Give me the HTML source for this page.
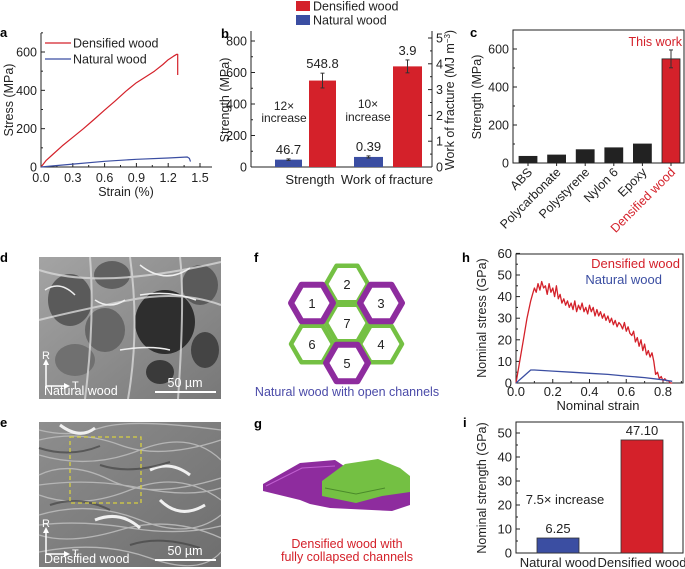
<!DOCTYPE html>
<html><head><meta charset="utf-8"><style>
html,body{margin:0;padding:0;background:#fff;}
svg{display:block;font-family:"Liberation Sans",sans-serif;}
</style></head><body>
<svg id="fig" width="685" height="569" viewBox="0 0 685 569" xmlns="http://www.w3.org/2000/svg">
<defs>
<linearGradient id="gd" x1="0" y1="0" x2="1" y2="1"><stop offset="0" stop-color="#a4a4a4"/><stop offset="1" stop-color="#787878"/></linearGradient>
<linearGradient id="ge" x1="0" y1="0" x2="1" y2="1"><stop offset="0" stop-color="#8e8e8e"/><stop offset="1" stop-color="#6e6e6e"/></linearGradient>
</defs>
<g>
<rect x="39" y="257" width="182" height="142" fill="url(#gd)"/>
<ellipse cx="70" cy="300" rx="22" ry="26" fill="#5a5a5a"/>
<ellipse cx="112" cy="275" rx="18" ry="14" fill="#606060"/>
<ellipse cx="165" cy="322" rx="30" ry="32" fill="#2e2e2e"/>
<ellipse cx="200" cy="285" rx="18" ry="20" fill="#5a5a5a"/>
<ellipse cx="105" cy="330" rx="20" ry="22" fill="#666"/>
<ellipse cx="160" cy="372" rx="14" ry="12" fill="#3a3a3a"/>
<ellipse cx="205" cy="350" rx="14" ry="18" fill="#444"/>
<ellipse cx="75" cy="360" rx="20" ry="16" fill="#707070"/>
<path d="M39 320 Q80 310 130 300 T221 305 M90 257 Q95 320 85 399 M130 257 Q140 330 128 399 M180 257 Q185 300 178 399 M39 270 Q100 290 221 262" stroke="#d8d8d8" stroke-width="2" fill="none" opacity="0.8"/>
<path d="M140 265 Q165 285 190 268 M140 295 Q170 290 196 300 M120 350 Q150 345 170 350 M45 290 Q60 280 75 295 M95 300 Q110 310 125 300" stroke="#eee" stroke-width="1.5" fill="none"/>
</g>
<g>
<rect x="39" y="422" width="182" height="145" fill="url(#ge)"/>
<path d="M39 440 Q80 430 120 445 T221 440 M39 455 Q90 470 140 450 T221 460 M39 475 Q70 460 110 480 T221 478 M39 495 Q80 510 130 490 T221 500 M39 515 Q90 500 140 520 T221 515 M39 535 Q70 545 120 530 T221 538 M39 552 Q100 540 150 558 T221 552 M39 430 Q70 438 100 428 T221 430 M39 485 Q90 478 140 488 T221 488 M39 525 Q80 520 130 528 T221 526" stroke="#b5b5b5" stroke-width="1.3" fill="none"/>
<path d="M60 425 Q80 440 95 428 M150 470 Q170 460 190 475 M95 520 Q120 510 140 528 M160 500 Q180 520 205 505" stroke="#f0f0f0" stroke-width="3" fill="none"/>
<path d="M39 448 Q70 458 100 446 M100 465 Q130 475 170 462 M50 505 Q80 495 110 510 M130 545 Q160 535 200 548" stroke="#444" stroke-width="2" fill="none" opacity="0.7"/>
<rect x="70" y="437" width="71" height="66" fill="none" stroke="#d8d040" stroke-width="1.3" stroke-dasharray="4,3"/>
</g>
<g id="f-struct"></g>
<g>
<path d="M263 484 L300 463 L335 460 L350 470 L370 476 L410 480 L410 505 L392 511 L330 508 L310 504 L300 500 L263 491 Z" fill="#8e2c9e"/>
<path d="M266 486 L302 468 L335 466" stroke="#c060d0" stroke-width="1" fill="none"/>
<path d="M322 481 L345 464 L378 459 L400 468 L410 476 L410 492 L382 496 L356 503 L322 496 Z" fill="#74c043"/>
<path d="M325 488 L356 494 L385 488" stroke="#4a8a2a" stroke-width="1" fill="none"/>
</g>
</svg>
<script>
const svgNS='http://www.w3.org/2000/svg';
const fig=document.getElementById('fig');
const RED='#d4212a', BLUE='#3b4ea2';

const aRedStrain=[0,0.05,0.1,0.2,0.3,0.4,0.5,0.6,0.7,0.8,0.9,1.0,1.07,1.15,1.2,1.25,1.28,1.29,1.29];
const aRedStress=[0,35,60,110,155,200,248,297,345,395,440,475,500,535,560,578,588,588,480];
const aBlueStrain=[0,0.1,0.3,0.6,0.9,1.2,1.38,1.4,1.41];
const aBlueStress=[0,5,15,30,40,47,52,45,28];
const aXTicks=['0.0','0.3','0.6','0.9','1.2','1.5'];
const aYTicks=['0','200','400','600'];

const bCategories=['Strength','Work of fracture'];
const bNatural=[46.7,0.39];
const bDensified=[548.8,3.9];
const bNaturalErr=[5,0.04];
const bDensifiedErr=[47,0.25];
const bValueLabels=['46.7','548.8','0.39','3.9'];
const bYTicks=['0','200','400','600','800'];
const bY2Ticks=['0','1','2','3','4','5'];

const cCategories=['ABS','Polycarbonate','Polystyrene','Nylon 6','Epoxy','Densified wood'];
const cValues=[35,42,70,80,100,548];
const cErr=[0,0,0,0,0,47];
const cYTicks=['0','200','400','600'];

const hRedStrain=[0,0.02,0.04,0.06,0.08,0.09,0.10,0.11,0.12,0.13,0.14,0.15,0.16,0.17,0.18,0.19,0.20,0.21,0.22,0.23,0.24,0.25,0.26,0.27,0.28,0.29,0.30,0.31,0.32,0.33,0.34,0.35,0.36,0.37,0.38,0.39,0.40,0.41,0.42,0.43,0.44,0.45,0.46,0.47,0.48,0.49,0.50,0.51,0.52,0.53,0.54,0.55,0.56,0.57,0.58,0.59,0.60,0.61,0.62,0.63,0.64,0.65,0.66,0.67,0.68,0.69,0.70,0.71,0.72,0.73,0.74,0.75,0.76,0.77,0.78,0.79,0.80,0.81,0.82,0.83,0.84,0.85];
const hRedStress=[0,10,20,30,38,41,44,42,46,43,47,44,45,41,46,42,44,40,45,39,41,37,39,36,38,35,37,34,38,33,36,34,37,33,35,32,36,33,35,31,34,31,33,30,32,29,31,28,30,27,29,26,28,27,25,28,24,26,23,22,24,19,21,17,20,15,18,13,15,12,14,10,4,5,2,3,1,2,1,1,0,0];
const hBlueStrain=[0,0.04,0.08,0.1,0.2,0.3,0.4,0.5,0.6,0.7,0.8,0.85];
const hBlueStress=[0,3,6,6,5.5,5,4.5,4,3.2,2.5,1.5,0.8];
const hXTicks=['0.0','0.2','0.4','0.6','0.8'];
const hYTicks=['0','10','20','30','40','50','60'];

const iCategories=['Natural wood','Densified wood'];
const iValues=[6.25,47.10];
const iValueLabels=['6.25','47.10'];
const iYTicks=['0','10','20','30','40','50'];

function mk(tag,attrs,parent){const e=document.createElementNS(svgNS,tag);for(const k in attrs)e.setAttribute(k,attrs[k]);(parent||fig).appendChild(e);return e;}
function nm(e,name,inter){
  
  
  return e;}
function T(x,y,s,o){o=o||{};const e=mk('text',{x:x,y:y,'font-size':o.fs||12.5,fill:o.fill||'#222','text-anchor':o.a||'middle','font-weight':o.w||'normal'});if(o.rot!==undefined)e.setAttribute('transform','rotate('+o.rot+' '+x+' '+y+')');e.textContent=s;return e;}
function L(x1,y1,x2,y2,c,w){return mk('line',{x1:x1,y1:y1,x2:x2,y2:y2,stroke:c||'#222','stroke-width':w||1});}
function lin(d0,d1,r0,r1){return v=>r0+(v-d0)*(r1-r0)/(d1-d0);}
function poly(xs,ys,sx,sy,c,w){return mk('polyline',{points:xs.map((v,i)=>sx(v).toFixed(1)+','+sy(ys[i]).toFixed(1)).join(' '),fill:'none',stroke:c,'stroke-width':w||1.2,'stroke-linejoin':'round'});}

[['a',0,37],['b',221,38],['c',470,37],['d',0,262],['e',0,427],['f',254,262],['g',254,428],['h',462,262],['i',463,427]].forEach(p=>{nm(T(p[1],p[2],p[0],{a:'start',w:'bold',fs:13,fill:'#000'}),'panel-label-'+p[0]);});

{const sx=lin(0,1.5,41,200), sy=lin(0,600,167,52);
nm(L(41,33,41,167.5),'a-y-axis');nm(L(41,167,212,167),'a-x-axis');
aXTicks.forEach((t,i)=>{const v=parseFloat(t);nm(L(sx(v),167,sx(v),163),'a-x-tick');nm(T(sx(v),182,t),'a-x-tick-label');if(i<5)nm(L(sx(v+0.15),167,sx(v+0.15),165),'a-x-minor-tick');});
aYTicks.forEach(t=>{const v=+t;nm(L(41,sy(v),45,sy(v)),'a-y-tick');nm(T(37,sy(v)+4.5,t,{a:'end'}),'a-y-tick-label');nm(L(41,sy(v+100),43,sy(v+100)),'a-y-minor-tick');});
nm(T(126,196,'Strain (%)'),'a-x-axis-title');
nm(T(13,100,'Stress (MPa)',{rot:-90}),'a-y-axis-title');
nm(poly(aRedStrain,aRedStress,sx,sy,RED,1.2),'a-densified-wood-line');
nm(poly(aBlueStrain,aBlueStress,sx,sy,BLUE,1.2),'a-natural-wood-line');
nm(L(45,43,71,43,RED,1.2),'a-legend-swatch-densified');nm(T(73,47.5,'Densified wood',{a:'start',fs:12.5}),'a-legend-label-densified');
nm(L(45,59,71,59,BLUE,1.2),'a-legend-swatch-natural');nm(T(73,63.5,'Natural wood',{a:'start',fs:12.5}),'a-legend-label-natural');}

{const sy=lin(0,800,167,41), sy2=lin(0,5,167,38);
nm(L(251,31,251,167),'b-y-axis');nm(L(251,167,432,167),'b-x-axis');nm(L(432,31,432,167),'b-y2-axis');
bYTicks.forEach(t=>{const v=+t;nm(L(251,sy(v),255,sy(v)),'b-y-tick');nm(T(247,sy(v)+4.5,t,{a:'end'}),'b-y-tick-label');if(v<800)nm(L(251,sy(v+100),253,sy(v+100)),'b-y-minor-tick');});
bY2Ticks.forEach(t=>{const v=+t;nm(L(428,sy2(v),432,sy2(v)),'b-y2-tick');nm(T(436,sy2(v)+4.5,t,{a:'start'}),'b-y2-tick-label');if(v<5)nm(L(430,sy2(v+0.5),432,sy2(v+0.5)),'b-y2-minor-tick');});
nm(T(229,100,'Strength (MPa)',{rot:-90}),'b-y-axis-title');
const wt=T(454,100,'Work of fracture (MJ m',{rot:-90});const sup=mk('tspan',{dy:-4,'font-size':8},wt);sup.textContent='−3';const cl=mk('tspan',{dy:4},wt);cl.textContent=')';nm(wt,'b-y2-axis-title');
const groups=[{x0:275,s:sy},{x0:354,s:sy2}];
bCategories.forEach((c,i)=>{const g=groups[i];const bw=i?29:27;const gap=i?39:34;
 nm(mk('rect',{x:g.x0,y:g.s(bNatural[i]),width:bw,height:167-g.s(bNatural[i]),fill:BLUE}),'b-bar-natural-'+i);
 nm(mk('rect',{x:g.x0+gap,y:g.s(bDensified[i]),width:bw,height:167-g.s(bDensified[i]),fill:RED}),'b-bar-densified-'+i);
 [[g.x0+bw/2,bNatural[i],bNaturalErr[i]],[g.x0+gap+bw/2,bDensified[i],bDensifiedErr[i]]].forEach(e=>{nm(L(e[0],g.s(e[1]+e[2]),e[0],g.s(e[1]-e[2]),'#333',1),'b-error-bar');nm(L(e[0]-2,g.s(e[1]+e[2]),e[0]+2,g.s(e[1]+e[2]),'#333',1),'b-error-cap');nm(L(e[0]-2,g.s(e[1]-e[2]),e[0]+2,g.s(e[1]-e[2]),'#333',1),'b-error-cap');});
 nm(T(g.x0+bw/2,g.s(bNatural[i]+bNaturalErr[i])-5,bValueLabels[i*2],{fs:13}),'b-value-label');
 nm(T(g.x0+gap+bw/2,g.s(bDensified[i]+bDensifiedErr[i])-5,bValueLabels[i*2+1],{fs:13}),'b-value-label');
 nm(T(i?387:310,184,c,{fs:13}),'b-category-label');});
nm(T(284,110,'12×',{fs:12}),'b-annotation');nm(T(284,122,'increase',{fs:12}),'b-annotation');
nm(T(368,108,'10×',{fs:12}),'b-annotation');nm(T(368,121,'increase',{fs:12}),'b-annotation');
nm(mk('rect',{x:296,y:1,width:14,height:10,fill:RED}),'b-legend-swatch-densified');nm(T(313,10.5,'Densified wood',{a:'start',fs:12.5}),'b-legend-label-densified');
nm(mk('rect',{x:296,y:15,width:14,height:10,fill:BLUE}),'b-legend-swatch-natural');nm(T(313,24.5,'Natural wood',{a:'start',fs:12.5}),'b-legend-label-natural');}

{const sy=lin(0,600,163,49);const band=28.6;const cx=i=>528+i*band;
nm(mk('rect',{x:513,y:30,width:171,height:133,fill:'none',stroke:'#222','stroke-width':1}),'c-plot-frame');
cYTicks.forEach(t=>{const v=+t;nm(L(513,sy(v),517,sy(v)),'c-y-tick');nm(T(509,sy(v)+4.5,t,{a:'end'}),'c-y-tick-label');if(v<600)nm(L(513,sy(v+100),515,sy(v+100)),'c-y-minor-tick');});
nm(T(481,97,'Strength (MPa)',{rot:-90}),'c-y-axis-title');
cCategories.forEach((c,i)=>{const last=i===cCategories.length-1;const bw=18;
 nm(mk('rect',{x:cx(i)-bw/2,y:sy(cValues[i]),width:bw,height:163-sy(cValues[i]),fill:last?RED:'#222',stroke:'#222','stroke-width':0.8}),'c-bar-'+i);
 nm(L(cx(i),163,cx(i),166),'c-x-tick');
 if(cErr[i]){nm(L(cx(i),sy(cValues[i]+cErr[i]),cx(i),sy(cValues[i]-cErr[i]),'#333'),'c-error-bar');nm(L(cx(i)-2,sy(cValues[i]+cErr[i]),cx(i)+2,sy(cValues[i]+cErr[i]),'#333'),'c-error-cap');nm(L(cx(i)-2,sy(cValues[i]-cErr[i]),cx(i)+2,sy(cValues[i]-cErr[i]),'#333'),'c-error-cap');}
 nm(T(cx(i)+5,173,c,{a:'end',rot:-45,fill:last?RED:'#222'}),'c-category-label');});
nm(T(682,46,'This work',{a:'end',fill:RED,fs:12.5}),'c-this-work-label');}

{const g=document.getElementById('f-struct');
const cells=[[347,323,'7','#74c043'],[347,284,'2','#74c043'],[381,344,'4','#74c043'],[312,344,'6','#74c043'],[312,303,'1','#8e2c9e'],[381,303,'3','#8e2c9e'],[347,363,'5','#8e2c9e']];
cells.forEach(c=>{const r=21;const pts=[];for(let k=0;k<6;k++){const a=Math.PI/3*k;pts.push((c[0]+r*Math.cos(a)).toFixed(1)+','+(c[1]+r*Math.sin(a)).toFixed(1));}
 nm(mk('polygon',{points:pts.join(' '),fill:'#fff',stroke:c[3],'stroke-width':c[3]==='#8e2c9e'?6:4.5,'stroke-linejoin':'round'},g),'f-cell-'+c[2]);});
cells.forEach(c=>{nm(T(c[0],c[1]+5,c[2],{fs:13}),'f-cell-number');});
nm(T(347,396,'Natural wood with open channels',{fill:'#4a4aa8',fs:12.5}),'f-caption');
nm(T(347,548,'Densified wood with',{fill:RED,fs:12.5}),'g-caption-line1');
nm(T(347,561,'fully collapsed channels',{fill:RED,fs:12.5}),'g-caption-line2');}

[[257,'Natural wood',399],[422,'Densified wood',567]].forEach((p,j)=>{const base=p[2];
 nm(L(46,base-13,46,base-36,'#fff',1.5),'sem-axis-r');nm(mk('polygon',{points:'43,'+(base-34)+' 49,'+(base-34)+' 46,'+(base-40),fill:'#fff'}),'sem-arrow-r');
 nm(L(46,base-13,66,base-13,'#fff',1.5),'sem-axis-t');nm(mk('polygon',{points:'64,'+(base-16)+' 64,'+(base-10)+' 70,'+(base-13),fill:'#fff'}),'sem-arrow-t');
 nm(T(42,base-40,'R',{a:'start',fill:'#fff',fs:11}),'sem-label-r');nm(T(72,base-10,'T',{a:'start',fill:'#fff',fs:11}),'sem-label-t');
 nm(T(44,base-4,p[1],{a:'start',fill:'#fff',fs:12.5}),'sem-sample-label');
 nm(L(155,base-7,216,base-7,'#fff',2),'sem-scale-bar');nm(T(185,base-12,'50 µm',{fill:'#fff',fs:12.5}),'sem-scale-label');});

{const sx=lin(0,0.8,516,663), sy=lin(0,50,383,275);
nm(mk('rect',{x:516,y:254,width:167,height:129,fill:'none',stroke:'#222'}),'h-plot-frame');
hXTicks.forEach(t=>{const v=+t;nm(L(sx(v),383,sx(v),379),'h-x-tick');nm(T(sx(v),396,t,{fs:13}),'h-x-tick-label');nm(L(sx(v+0.1),383,sx(v+0.1),381),'h-x-minor-tick');});
hYTicks.forEach(t=>{const v=+t;nm(L(516,sy(v),520,sy(v)),'h-y-tick');nm(T(512,sy(v)+4.5,t,{a:'end',fs:13}),'h-y-tick-label');if(v<60)nm(L(516,sy(v+5),518,sy(v+5)),'h-y-minor-tick');});
nm(T(598,410,'Nominal strain',{fs:13}),'h-x-axis-title');
nm(T(486,318,'Nominal stress (GPa)',{rot:-90,fs:12.5}),'h-y-axis-title');
nm(poly(hRedStrain,hRedStress,sx,sy,RED,1.3),'h-densified-wood-line');
nm(poly(hBlueStrain,hBlueStress,sx,sy,BLUE,1.3),'h-natural-wood-line');
nm(T(680,268,'Densified wood',{a:'end',fill:RED,fs:13}),'h-legend-densified');
nm(T(662,284,'Natural wood',{a:'end',fill:BLUE,fs:13}),'h-legend-natural');}

{const sy=lin(0,50,553,433);const xs=[558,642];
nm(mk('rect',{x:516,y:422,width:167,height:131,fill:'none',stroke:'#222'}),'i-plot-frame');
iYTicks.forEach(t=>{const v=+t;nm(L(516,sy(v),520,sy(v)),'i-y-tick');nm(T(512,sy(v)+4.5,t,{a:'end',fs:13}),'i-y-tick-label');if(v<50)nm(L(516,sy(v+5),518,sy(v+5)),'i-y-minor-tick');});
nm(T(486,488,'Nominal strength (GPa)',{rot:-90,fs:12.5}),'i-y-axis-title');
iCategories.forEach((c,i)=>{nm(mk('rect',{x:xs[i]-21,y:sy(iValues[i]),width:42,height:553-sy(iValues[i]),fill:i?RED:BLUE,stroke:'#333','stroke-width':0.8}),'i-bar-'+i);
 nm(T(xs[i],sy(iValues[i])-5,iValueLabels[i],{fs:13}),'i-value-label');
 nm(T(xs[i],567,c,{fs:13}),'i-category-label');});
nm(T(565,504,'7.5× increase',{fs:13}),'i-annotation');}
</script>
</body></html>
